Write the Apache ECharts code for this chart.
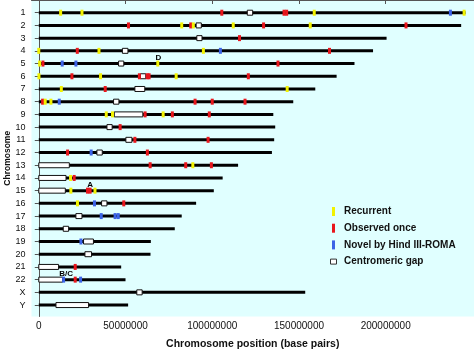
<!DOCTYPE html>
<html>
<head>
<meta charset="utf-8">
<script src="https://cdn.jsdelivr.net/npm/echarts@6/dist/echarts.min.js"></script>
<style>
  html, body { margin: 0; padding: 0; background: #fff; }
  #chart { width: 474px; height: 351px; }
</style>
</head>
<body>
<div id="chart"></div>
<script>
// chromosome names, top to bottom
const chromosomes = ['1', '2', '3', '4', '5', '6', '7', '8', '9', '10', '11', '12',
  '13', '14', '15', '16', '17', '18', '19', '20', '21', '22', 'X', 'Y'];

// all positions below are in Mbp
const chromosomeLength = [246, 243.5, 200.5, 192.7, 182, 171.7, 159.4, 146.7, 135.2, 136.3, 135.7, 134.4,
  114.9, 106, 100.9, 90.7, 82.4, 78.4, 64.6, 64.4, 47.5, 50, 153.6, 51.5];
const gapStart = [120.2, 90.7, 91.1, 48.2, 46, 58.6, 55.4, 43.1, 43.5, 39.3, 50.2, 33.5,
  0, 0, 0, 36.2, 21.4, 14.1, 25.8, 26.6, 0, 0, 56.5, 9.9];
const gapEnd = [123.3, 93.7, 94.1, 51.4, 49, 61.7, 61.1, 46.2, 60, 42.3, 53.7, 36.6,
  17.6, 15.7, 15.3, 39.3, 24.9, 17.2, 31.5, 30.4, 11.4, 13.7, 59.6, 28.7];

const recurrent = [
  ['1', 12.6], ['1', 24.9], ['1', 158.8], ['1', 245.2],
  ['2', 82.4], ['2', 89.1], ['2', 112.1], ['2', 156.5],
  ['4', 0], ['4', 34.7], ['4', 94.9],
  ['5', 0.5], ['5', 68.6],
  ['6', 0.1], ['6', 35.6], ['6', 79.2],
  ['7', 13], ['7', 143.2],
  ['8', 3.7], ['8', 7],
  ['9', 38.9], ['9', 42.5], ['9', 71.7],
  ['13', 88.8], ['14', 18.3], ['15', 18.5], ['15', 32.4], ['16', 22.3]
];
const observedOnce = [
  ['1', 105.5], ['1', 141.4], ['1', 142.9],
  ['2', 51.7], ['2', 87.6], ['2', 129.6], ['2', 211.7],
  ['3', 115.7],
  ['4', 22.2], ['4', 167.6],
  ['5', 2.4], ['5', 137.9],
  ['6', 19.1], ['6', 58], ['6', 62.5], ['6', 63.6], ['6', 120.8],
  ['7', 38.3],
  ['8', 2.2], ['8', 90.1], ['8', 100], ['8', 118.9],
  ['9', 61.3], ['9', 77], ['9', 98.3],
  ['10', 46.9], ['11', 55.4], ['11', 97.6], ['12', 16.6], ['12', 62.6],
  ['13', 64.2], ['13', 84.7], ['13', 99.5],
  ['14', 20.4], ['15', 28.1], ['15', 29.6], ['16', 49],
  ['21', 21], ['22', 21]
];
const novelRoma = [
  ['1', 237.3], ['4', 104.7], ['5', 13.5], ['5', 21.4], ['8', 11.8], ['12', 30.2],
  ['16', 32.1], ['17', 36], ['17', 44], ['17', 45.8], ['19', 24.3], ['22', 14.3], ['22', 24.1]
];

const annotations = [['D', '5', 68.9], ['A', '15', 29.6], ['B/C', '22', 15.7]];
const xTicks = [0, 50000000, 100000000, 150000000, 200000000];
const legendNames = ['Recurrent', 'Observed once', 'Novel by Hind III-ROMA', 'Centromeric gap'];

const MB = 1000000;
const FONT = '"Liberation Sans", Arial, Helvetica, sans-serif';
const colors = { recurrent: '#f2f200', observed: '#e8161c', novel: '#3b63e6' };

function rowOf(name) {
  return chromosomes.indexOf(name) + 1;
}

function renderBar(params, api) {
  const a = api.coord([api.value(0), api.value(2)]);
  const b = api.coord([api.value(1), api.value(2)]);
  return {
    type: 'rect',
    shape: { x: a[0], y: a[1] - 1.5, width: b[0] - a[0], height: 3 },
    style: { fill: '#000' }
  };
}

function renderGap(params, api) {
  const a = api.coord([api.value(0), api.value(2)]);
  const b = api.coord([api.value(1), api.value(2)]);
  return {
    type: 'rect',
    shape: { x: a[0], y: a[1] - 2.5, width: b[0] - a[0], height: 5 },
    style: { fill: '#fff', stroke: '#111', lineWidth: 1 }
  };
}

function markerRenderer(color) {
  return function(params, api) {
    const p = api.coord([api.value(0), api.value(1)]);
    return {
      type: 'rect',
      shape: { x: p[0] - 1.5, y: p[1] - 3, width: 3, height: 6 },
      style: { fill: color }
    };
  };
}

function renderAnnotation(params, api) {
  const p = api.coord([api.value(0), api.value(1)]);
  return {
    type: 'text',
    x: p[0],
    y: p[1] - 6,
    style: {
      text: annotations[params.dataIndex][0],
      fontSize: 8,
      fontWeight: 'bold',
      fontFamily: FONT,
      fill: '#000',
      align: 'center',
      verticalAlign: 'middle'
    }
  };
}

function markerData(list) {
  return list.map(d => [d[1] * MB, rowOf(d[0])]);
}

function customSeries(name, data, renderItem, encode) {
  return {
    type: 'custom',
    name: name,
    data: data,
    renderItem: renderItem,
    encode: encode,
    silent: true,
    animation: false
  };
}

function legendGraphic() {
  const items = [];
  const markerColors = [colors.recurrent, colors.observed, colors.novel];
  const rowsY = [211.5, 228.2, 244.9, 261.6];
  legendNames.forEach((name, i) => {
    if (i < 3) {
      items.push({ type: 'rect', shape: { x: 332, y: rowsY[i] - 4.5, width: 3, height: 9 },
        style: { fill: markerColors[i] } });
    } else {
      items.push({ type: 'rect', shape: { x: 330.5, y: rowsY[i] - 2.5, width: 6, height: 5 },
        style: { fill: '#fff', stroke: '#333', lineWidth: 1 } });
    }
    items.push({ type: 'text', x: 344, y: rowsY[i],
      style: { text: name, fontSize: 10, fontWeight: 'bold', fontFamily: FONT, fill: '#111',
        align: 'left', verticalAlign: 'middle' } });
  });
  return items;
}

const barData = chromosomes.map((c, i) => [0, chromosomeLength[i] * MB, i + 1]);
const gapData = chromosomes.map((c, i) => [gapStart[i] * MB, gapEnd[i] * MB, i + 1]);
const annotationData = annotations.map(d => [d[2] * MB, rowOf(d[1])]);
const yTicks = chromosomes.map((c, i) => i + 1);

const chart = echarts.init(document.getElementById('chart'), null, { renderer: 'canvas' });

const option = {
  animation: false,
  textStyle: { fontFamily: FONT },
  grid: {
    left: 31.5, right: 0, top: 0, bottom: 34.5,
    outerBoundsMode: 'none',
    containLabel: false,
    show: true, backgroundColor: '#e0ffff', borderWidth: 0
  },
  xAxis: {
    type: 'value',
    min: -4200000,
    max: 250900000,
    name: 'Chromosome position (base pairs)',
    nameLocation: 'middle',
    nameGap: 22,
    nameTextStyle: { fontSize: 10.5, fontWeight: 'bold', color: '#111', fontFamily: FONT },
    splitLine: { show: false },
    axisLine: { show: true, lineStyle: { color: '#555', width: 1 } },
    axisTick: { show: true, length: 4, customValues: xTicks, lineStyle: { color: '#555' } },
    axisLabel: {
      customValues: xTicks, margin: 5, fontSize: 10, color: '#111', fontFamily: FONT,
      formatter: v => String(v)
    }
  },
  yAxis: {
    type: 'value',
    inverse: true,
    min: 0,
    max: 24.9,
    name: 'Chromosome',
    nameLocation: 'middle',
    nameRotate: 90,
    nameGap: 19,
    nameMoveOverlap: false,
    nameTextStyle: { fontSize: 8.5, fontWeight: 'bold', color: '#111', fontFamily: FONT },
    splitLine: { show: false },
    axisLine: { show: true, lineStyle: { color: '#555', width: 1 } },
    axisTick: { show: true, length: 4, customValues: yTicks, lineStyle: { color: '#555' } },
    axisLabel: {
      customValues: yTicks, margin: 6, fontSize: 9, color: '#111', fontFamily: FONT,
      formatter: v => chromosomes[v - 1]
    }
  },
  series: [
    customSeries('bars', barData, renderBar, { x: [0, 1], y: 2 }),
    customSeries('Centromeric gap', gapData, renderGap, { x: [0, 1], y: 2 }),
    customSeries('Observed once', markerData(observedOnce), markerRenderer(colors.observed), { x: 0, y: 1 }),
    customSeries('Recurrent', markerData(recurrent), markerRenderer(colors.recurrent), { x: 0, y: 1 }),
    customSeries('Novel by Hind III-ROMA', markerData(novelRoma), markerRenderer(colors.novel), { x: 0, y: 1 }),
    customSeries('labels', annotationData, renderAnnotation, { x: 0, y: 1 })
  ],
  graphic: legendGraphic()
};

chart.setOption(option);
</script>
</body>
</html>
